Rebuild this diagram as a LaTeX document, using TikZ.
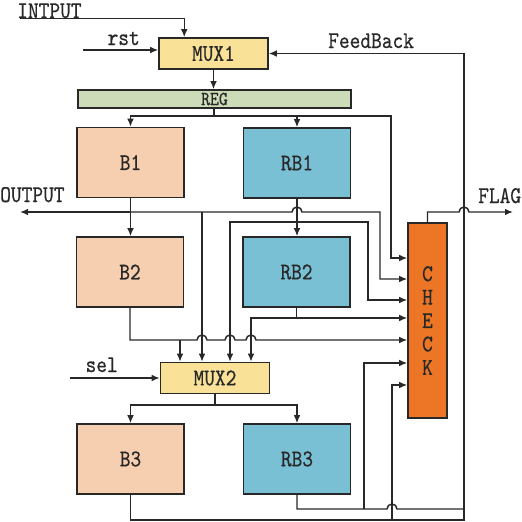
\documentclass[tikz,border=0pt]{standalone}
\usepackage{fontspec}
\setmonofont{lmmono10-regular.otf}[FakeStretch=0.85,FakeBold=0.5]
\usepackage{tikz}
\usetikzlibrary{arrows.meta}
\definecolor{muxyellow}{RGB}{249,226,152}
\definecolor{reggreen}{RGB}{205,220,184}
\definecolor{bpeach}{RGB}{246,207,176}
\definecolor{rbblue}{RGB}{122,192,212}
\definecolor{chkorange}{RGB}{236,118,37}
\definecolor{linegray}{RGB}{40,40,40}
\newcommand{\diagfont}{\fontsize{20.5}{20}\selectfont\ttfamily}

\begin{document}
\begin{tikzpicture}[x=0.03cm,y=-0.03cm,font=\diagfont,
    box/.style={draw=linegray,line width=1.3pt,inner sep=0pt,text=linegray},
    muxbox/.style={box,fill=muxyellow,minimum width=3.27cm,minimum height=0.93cm},
    bbox/.style={box,fill=bpeach,minimum width=3.2cm,minimum height=2.1cm},
    rbbox/.style={box,fill=rbblue,minimum width=3.2cm,minimum height=2.1cm},
    lbl/.style={anchor=base west,inner sep=0pt,text=linegray},
    ln/.style={draw=linegray,line width=1.25pt},
    arr/.style={ln,-{Latex[length=2.4mm,width=2mm]}}]
    \useasboundingbox (0,0) rectangle (522,521);

    \node[muxbox] (mux1) at (213.5,53.5) {MUX1};
    \node[box,fill=reggreen,minimum width=8.19cm,minimum height=0.54cm,font=\fontsize{17}{17}\selectfont\ttfamily] (reg) at (214.5,99) {REG};
    \node[bbox] (b1) at (130.5,162.5) {B1};
    \node[rbbox] (rb1) at (297,163) {RB1};
    \node[bbox] (b2) at (130,272) {B2};
    \node[rbbox] (rb2) at (296.5,272) {RB2};
    \node[muxbox] (mux2) at (215,378) {MUX2};
    \node[bbox] (b3) at (130.5,459) {B3};
    \node[rbbox] (rb3) at (297,459) {RB3};
    \node[box,fill=chkorange,minimum width=1.17cm,minimum height=5.85cm,align=center] (check) at (427.5,320.5) {C\\H\\E\\C\\K};

    \node[lbl] (intxt) at (17,18) {INTPUT};
    \node[lbl,anchor=base east] (rsttxt) at (140,45) {rst};
    \node[lbl] (fbtxt) at (328,48) {FeedBack};
    \node[lbl] (outtxt) at (0,202) {OUTPUT};
    \node[lbl] (flagtxt) at (478,203) {FLAG};
    \node[lbl,anchor=base east] (seltxt) at (118,372) {sel};

    \coordinate (inp) at (20,18.5);
    \coordinate (rst) at (83,50);
    \coordinate (sel) at (70,378);
    \coordinate (out) at (20,212);
    \coordinate (flag) at (513,212);
    \coordinate (fb) at (464,520);
    \coordinate (regbus) at (214,116);
    \coordinate (k1) at (364,509);
    \coordinate (k2) at (392,520);
    \coordinate (mbus) at (mux2.south |- 0,405);
    \coordinate (c1) at (check.west |- 0,258);
    \coordinate (c2) at (check.west |- 0,279);
    \coordinate (c3) at (check.west |- 0,300);
    \coordinate (c4) at (check.west |- 0,318);
    \coordinate (c5) at (check.west |- 0,340);
    \coordinate (c6) at (check.west |- 0,363);
    \coordinate (c7) at (check.west |- 0,385);

    \draw[arr] (inp) -| ([xshift=0.78cm]mux1.north west);
    \draw[arr] (rst) -- (rst -| mux1.west);
    \draw[arr] (mux1.south) -- (mux1.south |- reg.north);
    \draw[ln] (reg.south -| regbus) -- (regbus);
    \draw[arr] (regbus) -| (b1.north);
    \draw[arr] (regbus) -| (rb1.north);
    \draw[arr] (regbus) -- (391,116) |- (c1);

    \draw[arr] (b1.south) -- (b1.south |- b2.north);
    \draw[arr] (b1.south |- out) -- (out);
    \draw[arr] (b1.south |- out) -- (292,212) arc[start angle=180,end angle=0,radius=0.15cm] -- (380,212) |- (c2);
    \draw[arr] (202,212) -- (202,0 |- mux2.north);

    \draw[arr] (rb1.south) -- (rb1.south |- rb2.north);
    \draw[arr] (rb1.south |- 0,222) -- (230,222) -- (230,0 |- mux2.north);
    \draw[arr] (rb1.south |- 0,222) -- (368,222) |- (c3);

    \draw[arr] (b2.south) |- (197,340) arc[start angle=180,end angle=0,radius=0.15cm] -- (225,340) arc[start angle=180,end angle=0,radius=0.15cm] -- (246,340) arc[start angle=180,end angle=0,radius=0.15cm] -- (c5);
    \draw[arr] (180,340) -- (180,0 |- mux2.north);
    \draw[arr] (rb2.south) |- (c4);
    \draw[arr] (rb2.south |- c4) -| (251,0 |- mux2.north);

    \draw[arr] (sel) -- (sel -| mux2.west);
    \draw[ln] (mux2.south) -- (mbus);
    \draw[arr] (mbus) -| (b3.north);
    \draw[arr] (mbus) -| (rb3.north);

    \draw[arr] (b3.south) |- (fb) |- (mux1.east);
    \draw[ln] (rb3.south) |- (k1) -- (387,509) arc[start angle=180,end angle=0,radius=0.15cm] -- (k1 -| fb);
    \draw[arr] (k1) |- (c6);
    \draw[arr] (k2) |- (c7);
    \draw[arr] (check.north) |- (459,212) arc[start angle=180,end angle=0,radius=0.15cm] -- (flag);
\end{tikzpicture}
\end{document}
